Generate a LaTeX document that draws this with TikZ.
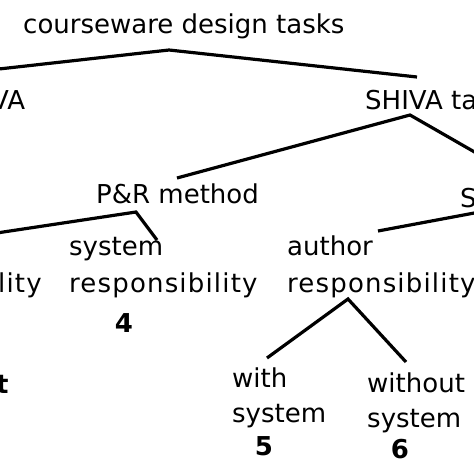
\documentclass[tikz,border=0pt]{standalone}
\usepackage{fontspec}
\setmainfont{DejaVu Sans}
\begin{document}
\begin{tikzpicture}[x=1pt,y=-1pt,
  lbl/.style={anchor=base west,inner sep=0pt,font=\fontsize{26}{30}\selectfont},
  wide/.style={font=\fontsize{26}{30}\selectfont\addfontfeature{LetterSpace=4.5}},
  num/.style={anchor=base,inner sep=0pt,font=\fontsize{26}{30}\selectfont\bfseries},
  edge/.style={line width=3.2pt,line cap=butt,line join=miter}]
\useasboundingbox (0,0) rectangle (474,474);
\clip (0,0) rectangle (474,474);
\fill[white] (0,0) rectangle (474,474);
% labels
\node[lbl] (root) at (23,33) {courseware design tasks};
\node[lbl] (va) at (-9,109) {VA};
\node[lbl] (shiva) at (365,109) {SHIVA ta};
\node[lbl] (pr) at (96,203) {P\&R method};
\node[lbl] (s) at (460,207) {S};
\node[lbl,wide] (lity) at (-2,292) {lity};
\node[lbl] (sys1) at (69,255) {system};
\node[lbl,wide] (resp1) at (69,292) {responsibility};
\node[num] (n4) at (124,332) {4};
\node[lbl] (auth) at (287,255) {author};
\node[lbl,wide] (resp2) at (287,292) {responsibility};
\node[lbl] (with) at (232,387) {with};
\node[lbl] (sys2) at (232,422) {system};
\node[num] (n5) at (264,455) {5};
\node[lbl] (without) at (367,392) {without};
\node[lbl] (sys3) at (367,427) {system};
\node[num] (n6) at (400,458) {6};
\node[num,anchor=base west] (t) at (-4,393) {t};
% connector points
\coordinate (rootA) at (169,50);
\coordinate (rootL) at (-10,70);
\coordinate (rootR) at (417,77);
\coordinate (shivaA) at (410,115);
\coordinate (shivaL) at (177,178);
\coordinate (shivaR) at (485,158);
\coordinate (prA) at (136,212);
\coordinate (prL) at (-10,234);
\coordinate (prR) at (157,240);
\coordinate (sR) at (485,211);
\coordinate (sL) at (378,231);
\coordinate (authA) at (348,299);
\coordinate (authL) at (267,358);
\coordinate (authR) at (406,362);
% connectors
\draw[edge] (rootL) -- (rootA) -- (rootR);
\draw[edge] (shivaL) -- (shivaA) -- (shivaR);
\draw[edge] (prL) -- (prA) -- (prR);
\draw[edge] (sR) -- (sL);
\draw[edge] (authL) -- (authA) -- (authR);
\end{tikzpicture}
\end{document}
